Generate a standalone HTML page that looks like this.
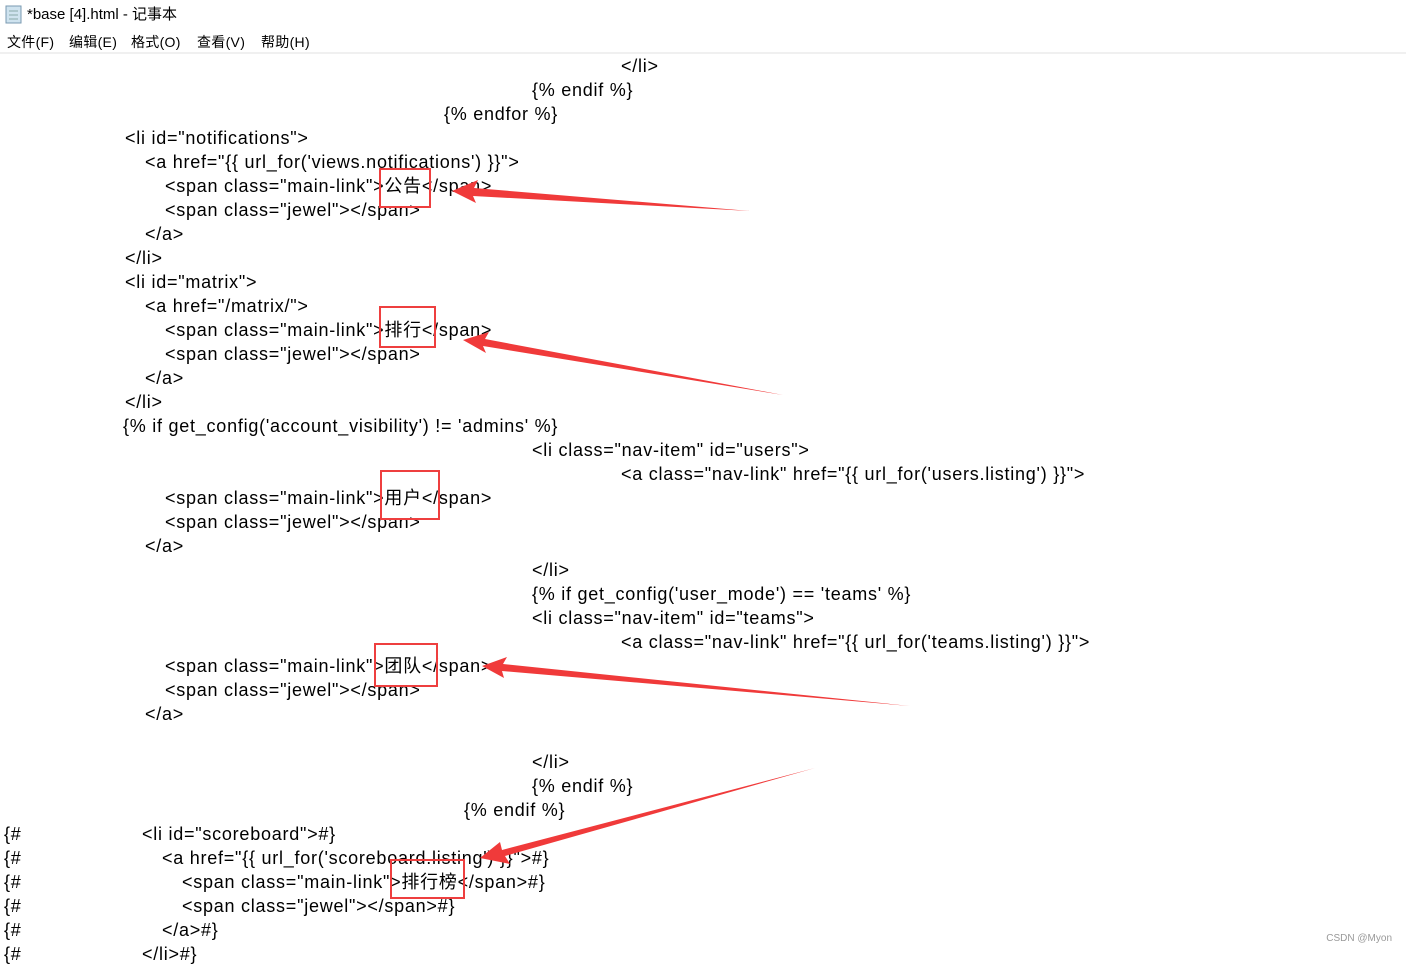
<!DOCTYPE html>
<html><head><meta charset="utf-8"><style>
body{margin:0;width:1406px;height:954px;background:#fff;overflow:hidden;position:relative;font-family:"Liberation Sans","Noto Sans CJK SC",sans-serif;color:#000}
.l{position:absolute;font-size:18px;line-height:24px;white-space:pre;letter-spacing:0.75px;margin-top:0px}
.title{position:absolute;left:27px;top:5px;font-size:15px;line-height:20px;white-space:nowrap}
.menu{position:absolute;left:7px;top:32px;font-size:14px;line-height:20px;letter-spacing:0.3px;white-space:nowrap}
.menu span{position:absolute;top:0;white-space:nowrap}
.bar{position:absolute;left:0;top:52px;width:1406px;height:2px;background:#f0f0f0}
.box{position:absolute;border:2px solid #ee3f3f}
.wm{position:absolute;right:14px;top:933px;font-size:10px;color:#999}
</style></head><body>
<svg style="position:absolute;left:4px;top:4px" width="20" height="20"><rect x="2" y="2" width="15" height="17" fill="#cfe3ef" stroke="#7a9ab0"/><line x1="5" y1="7" x2="14" y2="7" stroke="#8aa"/><line x1="5" y1="11" x2="14" y2="11" stroke="#8aa"/><line x1="5" y1="15" x2="14" y2="15" stroke="#8aa"/></svg>
<div class="title">*base [4].html - 记事本</div>
<div class="menu"><span style="left:0">文件(F)</span><span style="left:62px">编辑(E)</span><span style="left:124px">格式(O)</span><span style="left:190px">查看(V)</span><span style="left:254px">帮助(H)</span></div>
<div class="bar"></div>

<div class="l" style="left:621px;top:54px">&lt;/li&gt;</div>
<div class="l" style="left:532px;top:78px">{% endif %}</div>
<div class="l" style="left:444px;top:102px">{% endfor %}</div>
<div class="l" style="left:125px;top:126px">&lt;li id="notifications"&gt;</div>
<div class="l" style="left:145px;top:150px">&lt;a href="{{ url_for('views.notifications') }}"&gt;</div>
<div class="l" style="left:165px;top:174px">&lt;span class="main-link"&gt;公告&lt;/span&gt;</div>
<div class="l" style="left:165px;top:198px">&lt;span class="jewel"&gt;&lt;/span&gt;</div>
<div class="l" style="left:145px;top:222px">&lt;/a&gt;</div>
<div class="l" style="left:125px;top:246px">&lt;/li&gt;</div>
<div class="l" style="left:125px;top:270px">&lt;li id="matrix"&gt;</div>
<div class="l" style="left:145px;top:294px">&lt;a href="/matrix/"&gt;</div>
<div class="l" style="left:165px;top:318px">&lt;span class="main-link"&gt;排行&lt;/span&gt;</div>
<div class="l" style="left:165px;top:342px">&lt;span class="jewel"&gt;&lt;/span&gt;</div>
<div class="l" style="left:145px;top:366px">&lt;/a&gt;</div>
<div class="l" style="left:125px;top:390px">&lt;/li&gt;</div>
<div class="l" style="left:123px;top:414px">{% if get_config('account_visibility') != 'admins' %}</div>
<div class="l" style="left:532px;top:438px">&lt;li class="nav-item" id="users"&gt;</div>
<div class="l" style="left:621px;top:462px">&lt;a class="nav-link" href="{{ url_for('users.listing') }}"&gt;</div>
<div class="l" style="left:165px;top:486px">&lt;span class="main-link"&gt;用户&lt;/span&gt;</div>
<div class="l" style="left:165px;top:510px">&lt;span class="jewel"&gt;&lt;/span&gt;</div>
<div class="l" style="left:145px;top:534px">&lt;/a&gt;</div>
<div class="l" style="left:532px;top:558px">&lt;/li&gt;</div>
<div class="l" style="left:532px;top:582px">{% if get_config('user_mode') == 'teams' %}</div>
<div class="l" style="left:532px;top:606px">&lt;li class="nav-item" id="teams"&gt;</div>
<div class="l" style="left:621px;top:630px">&lt;a class="nav-link" href="{{ url_for('teams.listing') }}"&gt;</div>
<div class="l" style="left:165px;top:654px">&lt;span class="main-link"&gt;团队&lt;/span&gt;</div>
<div class="l" style="left:165px;top:678px">&lt;span class="jewel"&gt;&lt;/span&gt;</div>
<div class="l" style="left:145px;top:702px">&lt;/a&gt;</div>
<div class="l" style="left:532px;top:750px">&lt;/li&gt;</div>
<div class="l" style="left:532px;top:774px">{% endif %}</div>
<div class="l" style="left:464px;top:798px">{% endif %}</div>
<div class="l" style="left:4px;top:822px">{#</div><div class="l" style="left:142px;top:822px">&lt;li id="scoreboard"&gt;#}</div>
<div class="l" style="left:4px;top:846px">{#</div><div class="l" style="left:162px;top:846px">&lt;a href="{{ url_for('scoreboard.listing') }}"&gt;#}</div>
<div class="l" style="left:4px;top:870px">{#</div><div class="l" style="left:182px;top:870px">&lt;span class="main-link"&gt;排行榜&lt;/span&gt;#}</div>
<div class="l" style="left:4px;top:894px">{#</div><div class="l" style="left:182px;top:894px">&lt;span class="jewel"&gt;&lt;/span&gt;#}</div>
<div class="l" style="left:4px;top:918px">{#</div><div class="l" style="left:162px;top:918px">&lt;/a&gt;#}</div>
<div class="l" style="left:4px;top:942px">{#</div><div class="l" style="left:142px;top:942px">&lt;/li&gt;#}</div>

<div class="box" style="left:379px;top:168px;width:48px;height:36px"></div>
<div class="box" style="left:379px;top:306px;width:53px;height:38px"></div>
<div class="box" style="left:380px;top:470px;width:56px;height:46px"></div>
<div class="box" style="left:374px;top:643px;width:60px;height:40px"></div>
<div class="box" style="left:390px;top:859px;width:71px;height:36px"></div>

<svg style="position:absolute;left:0;top:0" width="1406" height="954">
<g fill="#f03a3a">
<polygon points="452,191 478,180 474,188 750,211 473,196 476,203"/>
<polygon points="463,340 489,332 485,339 783,395 483,346 486,353"/>
<polygon points="482,666 507,657 503,664 910,706 502,671 504,678"/>
<polygon points="480,858 500,842 502,850 815,768 505,856 510,864"/>
</g>
</svg>
<div class="wm">CSDN @Myon⁠</div>
</body></html>
